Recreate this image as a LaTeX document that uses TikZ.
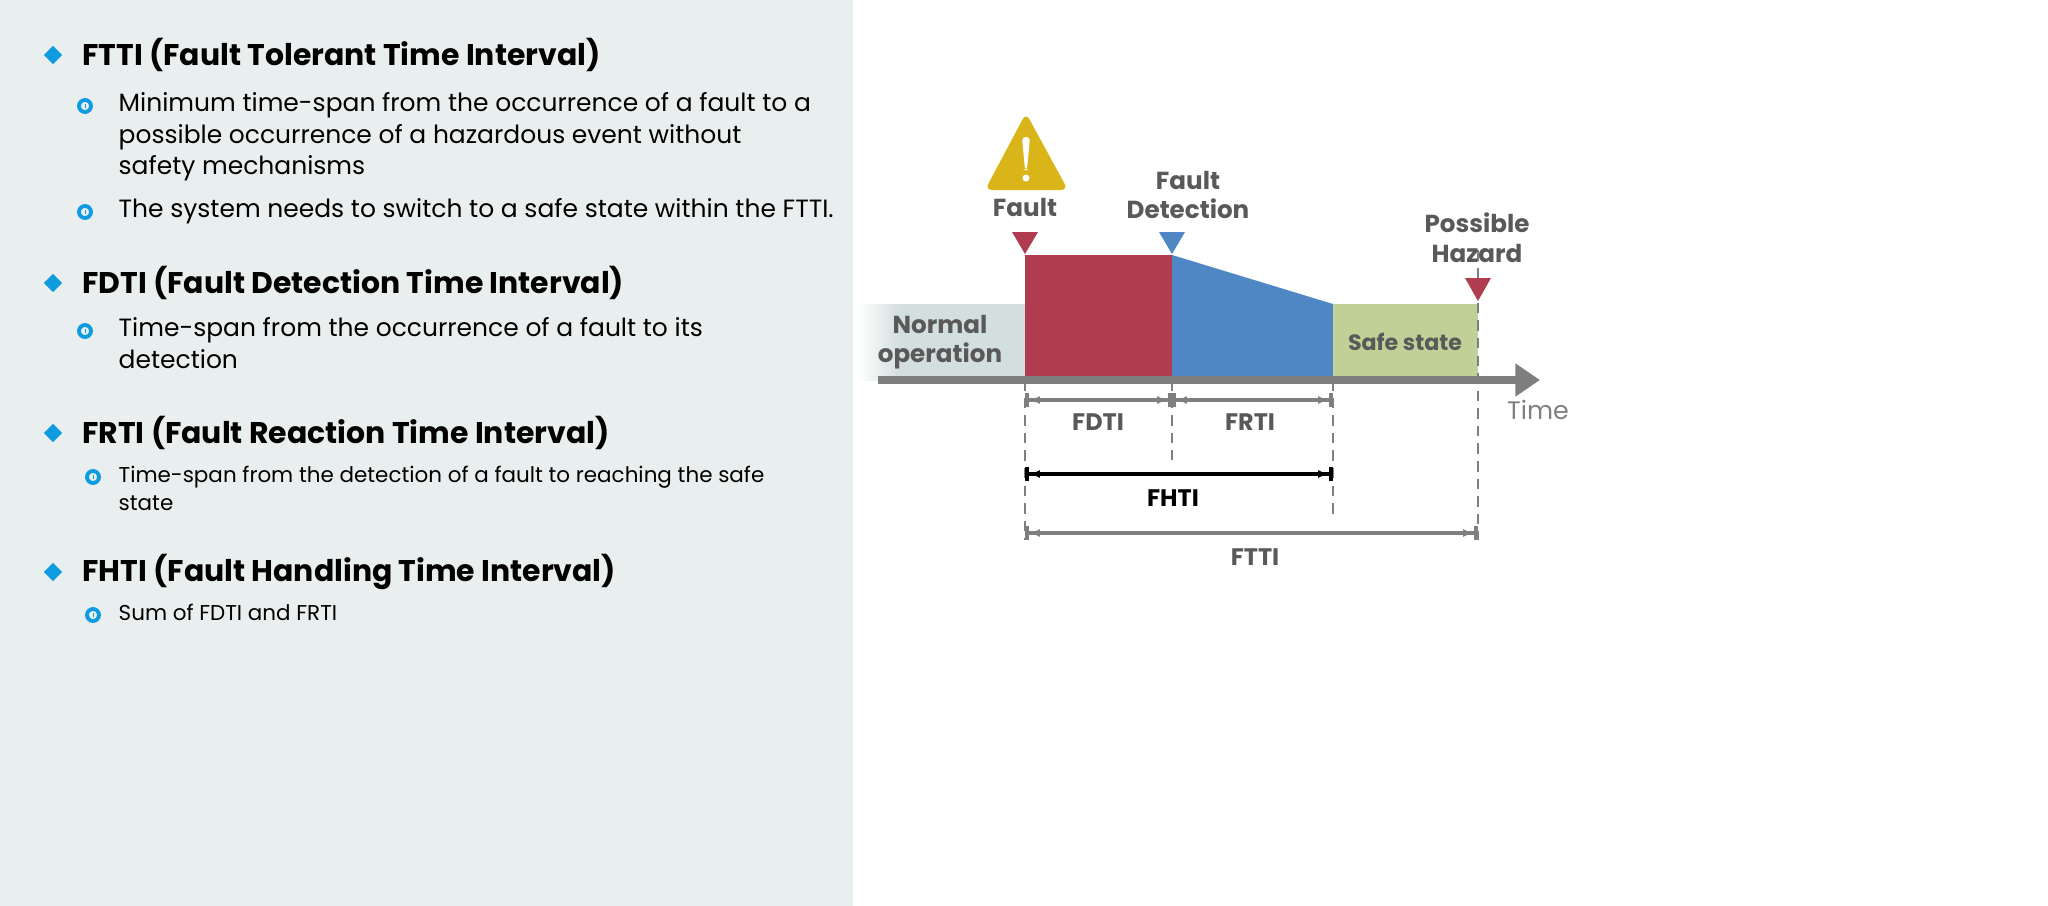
\documentclass[tikz,border=0pt]{standalone}
\usepackage{fontspec}
\setmainfont{Poppins}
\usetikzlibrary{positioning,arrows.meta,calc}
\definecolor{panelbg}{HTML}{E9EFEF}
\definecolor{bulletblue}{HTML}{0E9BE0}
\definecolor{labelgray}{HTML}{595959}
\definecolor{axisgray}{HTML}{7F7F7F}
\definecolor{faultred}{HTML}{B03C50}
\definecolor{detectblue}{HTML}{4F87C5}
\definecolor{safegreen}{HTML}{C0D097}
\definecolor{normalgray}{HTML}{D3DEDE}
\definecolor{warnyellow}{HTML}{D9B519}
\tikzset{
  heading/.style={anchor=west, font=\bfseries\fontsize{8.5}{10}\selectfont},
  subitem/.style={anchor=north west, align=left, inner sep=0, font=\fontsize{7.1}{8.9}\selectfont},
  smallitem/.style={anchor=north west, align=left, inner sep=0, font=\fontsize{6.1}{8.2}\selectfont},
  diamondbullet/.style={fill=bulletblue, rotate=45, minimum size=0.13cm, inner sep=0},
  ringbullet/.style={circle, draw=bulletblue, line width=1.1pt, minimum size=0.12cm, inner sep=0},
  eventlabel/.style={align=center, text=labelgray, font=\bfseries\fontsize{7}{8.4}\selectfont},
  spanlabel/.style={text=labelgray, font=\bfseries\fontsize{6.8}{8}\selectfont},
  guide/.style={densely dashed, axisgray, line width=0.4pt},
  span/.style={{Bar[width=4pt]Latex[length=3pt]}-{Latex[length=3pt]Bar[width=4pt]}, axisgray, line width=1.2pt}
}
\newcommand{\ringat}[1]{\node[ringbullet] at (#1) {}; \draw[bulletblue, line width=1.1pt] ($(#1)+(0.06,0)$) -- ++(0.07,0);}
\begin{document}
\begin{tikzpicture}[x=0.01cm, y=-0.01cm]
  \useasboundingbox (0,0) rectangle (2048,906);
  \fill[panelbg] (0,0) rectangle (853,906);

  % left panel
  \node[diamondbullet] at (53,55) {};
  \node[heading] (ftti_head) at (70,55) {FTTI (Fault Tolerant Time Interval)};
  \ringat{85,106}
  \node[subitem] (ftti_a) at (118,92) {Minimum time-span from the occurrence of a fault to a\\possible occurrence of a hazardous event without\\safety mechanisms};
  \ringat{85,212}
  \node[subitem] (ftti_b) at (118,198) {The system needs to switch to a safe state within the FTTI.};

  \node[diamondbullet] at (53,283) {};
  \node[heading] (fdti_head) at (70,283) {FDTI (Fault Detection Time Interval)};
  \ringat{85,331}
  \node[subitem] (fdti_a) at (118,317) {Time-span from the occurrence of a fault to its\\detection};

  \node[diamondbullet] at (53,433) {};
  \node[heading] (frti_head) at (70,433) {FRTI (Fault Reaction Time Interval)};
  \ringat{93,477}
  \node[smallitem] (frti_a) at (118,465) {Time-span from the detection of a fault to reaching the safe\\state};

  \node[diamondbullet] at (53,572) {};
  \node[heading] (fhti_head) at (70,572) {FHTI (Fault Handling Time Interval)};
  \ringat{93,615}
  \node[smallitem] (fhti_a) at (118,603) {Sum of FDTI and FRTI};

  % timeline
  \shade[left color=white, right color=normalgray] (858,304) rectangle (900,380);
  \fill[normalgray] (900,304) rectangle (1025,380);
  \fill[faultred] (1025,255) rectangle (1172,380);
  \fill[detectblue] (1172,255) -- (1333,304) -- (1333,380) -- (1172,380) -- cycle;
  \fill[safegreen] (1333,304) rectangle (1478,380);
  \node[eventlabel] (normal) at (940,342) {Normal\\operation};
  \node[spanlabel, font=\bfseries\fontsize{6.3}{8}\selectfont] (safe) at (1405,342) {Safe state};

  \coordinate (axis_start) at (878,380);
  \coordinate (axis_end) at (1540,380);
  \draw[axisgray, line width=2.2pt, -{Triangle[length=7pt,width=9pt]}] (axis_start) -- (axis_end);
  \node[text=axisgray, font=\fontsize{7.2}{8}\selectfont] (time) at (1538,410) {Time};

  \coordinate (t_fault) at (1025,380);
  \coordinate (t_detect) at (1172,380);
  \coordinate (t_safe) at (1333,380);
  \coordinate (t_hazard) at (1478,380);
  \draw[guide] (t_fault) -- ++(0,160);
  \draw[guide] (t_detect) -- ++(0,80);
  \draw[guide] (t_safe) -- ++(0,140);
  \draw[guide] (1478,250) -- ++(0,290);

  % markers
  \fill[faultred] (1012,232) -- (1038,232) -- (1025,254) -- cycle;
  \fill[detectblue] (1159,232) -- (1185,232) -- (1172,254) -- cycle;
  \fill[faultred] (1465,278) -- (1491,278) -- (1478,301) -- cycle;
  \fill[warnyellow, rounded corners=2pt] (985,190) -- (1026,113) -- (1068,190) -- cycle;
  \fill[white, rounded corners=1pt] (1022,137) -- (1030,137) -- (1027,170) -- (1025,170) -- cycle;
  \fill[white] (1026,178) circle (3.5);
  \node[eventlabel] (fault) at (1025,207) {Fault};
  \node[eventlabel] (detect) at (1188,195) {Fault\\Detection};
  \node[eventlabel] (hazard) at (1477,238) {Possible\\Hazard};

  % intervals
  \draw[span] (1025,400) -- (1172,400);
  \draw[span] (1172,400) -- (1333,400);
  \node[spanlabel] (fdti) at (1098,422) {FDTI};
  \node[spanlabel] (frti) at (1250,422) {FRTI};
  \draw[{Bar[width=4pt]Latex[length=3pt]}-{Latex[length=3pt]Bar[width=4pt]}, black, line width=1.2pt] (1025,474) -- (1333,474);
  \node[font=\bfseries\fontsize{6.8}{8}\selectfont] (fhti) at (1173,498) {FHTI};
  \draw[span] (1025,533) -- (1478,533);
  \node[spanlabel] (ftti) at (1255,557) {FTTI};
\end{tikzpicture}
\end{document}
